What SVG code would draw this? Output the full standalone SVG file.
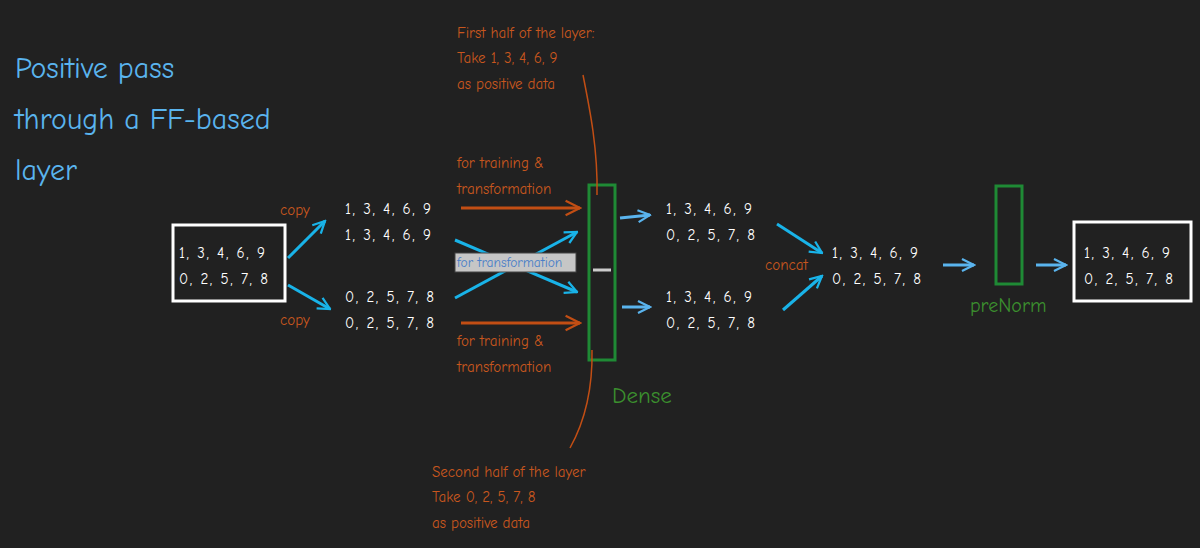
<svg xmlns="http://www.w3.org/2000/svg" width="1200" height="548" viewBox="0 0 1200 548">
<defs>
<style>
text{font-family:"Comic Neue","Open Sans","DejaVu Sans",sans-serif}
.d{fill:#fff;font-size:15px;letter-spacing:1.6px}
.o{fill:#c8571e;font-size:15px}
.bl{fill:none;stroke:#19b3e8;stroke-width:3}
.lb{fill:none;stroke:#5ab4ee;stroke-width:3}
.or{fill:none;stroke:#c24e14;stroke-width:3}
.ol{fill:none;stroke:#c24e14;stroke-width:1.5}
</style>
<marker id="ab" viewBox="0 0 10 10" refX="9" refY="5" markerWidth="5" markerHeight="5" orient="auto" markerUnits="strokeWidth"><path d="M1,1 L9,5 L1,9" fill="none" stroke="#19b3e8" stroke-width="1.5"/></marker>
<marker id="al" viewBox="0 0 10 10" refX="9" refY="5" markerWidth="5" markerHeight="5" orient="auto" markerUnits="strokeWidth"><path d="M1,1 L9,5 L1,9" fill="none" stroke="#5ab4ee" stroke-width="1.5"/></marker>
<marker id="ao" viewBox="0 0 10 10" refX="9" refY="5" markerWidth="6" markerHeight="6" orient="auto" markerUnits="strokeWidth"><path d="M1,1 L9,5 L1,9" fill="none" stroke="#c24e14" stroke-width="1.2"/></marker>
</defs>
<rect width="1200" height="548" fill="#212121"/>
<text x="15" y="78" fill="#5ab4ee" font-size="30">Positive pass</text>
<text x="15" y="129" fill="#5ab4ee" font-size="30">through a FF-based</text>
<text x="15" y="180" fill="#5ab4ee" font-size="30">layer</text>
<g id="input"><rect x="173" y="225" width="112" height="76" fill="none" stroke="#fff" stroke-width="3"/><text class="d" x="179" y="258">1, 3, 4, 6, 9</text><text class="d" x="179" y="284">0, 2, 5, 7, 8</text></g>
<g id="copyA"><text class="d" x="345" y="214">1, 3, 4, 6, 9</text><text class="d" x="345" y="240">1, 3, 4, 6, 9</text></g>
<g id="copyB"><text class="d" x="345" y="302">0, 2, 5, 7, 8</text><text class="d" x="345" y="328">0, 2, 5, 7, 8</text></g>
<g id="dense"><rect x="589" y="185" width="26" height="175" fill="none" stroke="#1f8a35" stroke-width="3"/><line x1="593" y1="270" x2="611" y2="270" stroke="#ccc" stroke-width="3"/><text x="612" y="403" fill="#3b8f2e" font-size="23">Dense</text></g>
<g id="outA"><text class="d" x="666" y="214">1, 3, 4, 6, 9</text><text class="d" x="666" y="240">0, 2, 5, 7, 8</text></g>
<g id="outB"><text class="d" x="666" y="302">1, 3, 4, 6, 9</text><text class="d" x="666" y="328">0, 2, 5, 7, 8</text></g>
<g id="concat"><text class="d" x="832" y="258">1, 3, 4, 6, 9</text><text class="d" x="832" y="284">0, 2, 5, 7, 8</text></g>
<g id="prenorm"><rect x="996" y="186" width="26" height="98" fill="none" stroke="#1f8a35" stroke-width="3"/><text x="970" y="312" fill="#3b8f2e" font-size="20">preNorm</text></g>
<g id="output"><rect x="1074" y="222" width="117" height="79" fill="none" stroke="#fff" stroke-width="3"/><text class="d" x="1084" y="258">1, 3, 4, 6, 9</text><text class="d" x="1084" y="284">0, 2, 5, 7, 8</text></g>
<g id="connectors">
<path class="bl" d="M288,258 L325,221" marker-end="url(#ab)"/>
<path class="bl" d="M288,285 L330,309" marker-end="url(#ab)"/>
<path class="or" d="M461,208 L580,208" marker-end="url(#ao)"/>
<path class="or" d="M461,323 L580,323" marker-end="url(#ao)"/>
<path class="bl" d="M455,240 L577,292" marker-end="url(#ab)"/>
<path class="bl" d="M455,298 L577,232" marker-end="url(#ab)"/>
<path class="lb" d="M620,218 L650,215" marker-end="url(#al)"/>
<path class="lb" d="M622,307 L650,307" marker-end="url(#al)"/>
<path class="bl" d="M777,224 L822,253" marker-end="url(#ab)"/>
<path class="bl" d="M783,310 L822,276" marker-end="url(#ab)"/>
<path class="lb" d="M943,265 L974,265" marker-end="url(#al)"/>
<path class="lb" d="M1036,265 L1066,265" marker-end="url(#al)"/>
<path class="ol" d="M583,75 C590,110 598,150 597,195"/>
<path class="ol" d="M570,448 C580,430 593,400 592,350"/>
</g>
<rect x="455" y="253" width="121" height="19" fill="#c6c6c6" stroke="#444"/>
<text x="457" y="267" fill="#4a7fc8" font-size="13.5">for transformation</text>
<text class="o" x="280" y="215">copy</text>
<text class="o" x="280" y="325">copy</text>
<text class="o" x="765" y="270">concat</text>
<text class="o" x="457" y="168">for training &amp;</text>
<text class="o" x="457" y="194">transformation</text>
<text class="o" x="457" y="346">for training &amp;</text>
<text class="o" x="457" y="372">transformation</text>
<text class="o" x="457" y="38">First half of the layer:</text>
<text class="o" x="457" y="63">Take 1, 3, 4, 6, 9</text>
<text class="o" x="457" y="89">as positive data</text>
<text class="o" x="432" y="477">Second half of the layer</text>
<text class="o" x="432" y="502">Take 0, 2, 5, 7, 8</text>
<text class="o" x="432" y="528">as positive data</text>
</svg>
